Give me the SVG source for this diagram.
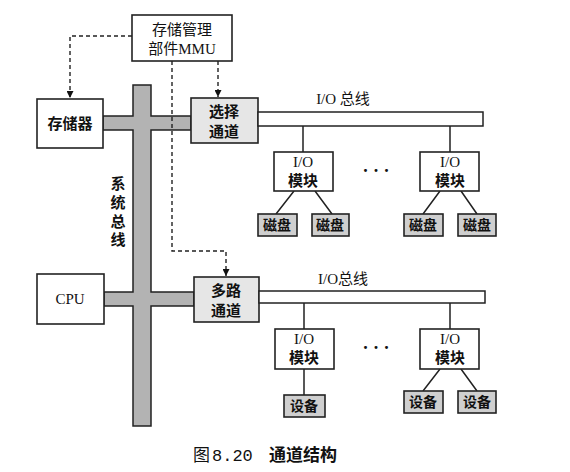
<svg xmlns="http://www.w3.org/2000/svg" width="570" height="472" viewBox="0 0 570 472">
<defs>
<marker id="arr" viewBox="0 0 10 10" refX="10" refY="5" markerWidth="7" markerHeight="7" orient="auto" markerUnits="userSpaceOnUse">
<path d="M0,0 L10,5 L0,10 z" fill="#111"/>
</marker>
</defs>
<style>
.box{fill:#fff;stroke:#222;stroke-width:1.6}
.gbox{fill:#e6e6e6;stroke:#222;stroke-width:1.6}
.dbox{fill:#cfcfcf;stroke:#222;stroke-width:1.6}
.bus{fill:#b3b3b3;stroke:#222;stroke-width:1.5}
.iobus{fill:#fff;stroke:#222;stroke-width:1.5}
.ln{stroke:#222;stroke-width:1.5;fill:none}
.dash{stroke:#222;stroke-width:1.4;fill:none;stroke-dasharray:4,3}
text{font-family:"Liberation Serif","Noto Sans CJK SC",serif;fill:#111;text-anchor:middle}
.t{font-size:15px}
.b{font-size:15px;font-weight:bold}
.s{font-size:14px;font-weight:bold}
.dots{font-size:18px;font-weight:bold}
</style>

<g id="system-bus">
<path class="bus" d="M133,85 H151 V116 H191 V130 H151 V292 H194 V306 H151 V426 H133 V306 H104 V292 H133 V130 H103 V116 H133 Z"/>
<text class="b" x="118" y="189">系</text>
<text class="b" x="118" y="208">统</text>
<text class="b" x="118" y="227">总</text>
<text class="b" x="118" y="245">线</text>
</g>

<g id="connectors">
<path class="dash" d="M132,36 H70 V98" marker-end="url(#arr)"/>
<path class="dash" d="M218,61 V97" marker-end="url(#arr)"/>
<path class="dash" d="M172,61 V251 H226 V276" marker-end="url(#arr)"/>
<path class="ln" d="M303,126 V152 M450,126 V152"/>
<path class="ln" d="M294,191 L276,214 M315,191 L332,214 M440,191 L423,214 M461,191 L477,214"/>
<path class="ln" d="M304,303 V329 M450,303 V329"/>
<path class="ln" d="M304,369 V395 M440,369 L423,391 M461,369 L477,391"/>
</g>

<g id="mmu">
<rect class="box" x="132" y="15" width="100" height="46"/>
<text class="t" x="182" y="35">存储管理</text>
<text class="t" x="182" y="54">部件MMU</text>
</g>

<g id="memory">
<rect class="box" x="37" y="99" width="66" height="49"/>
<text class="b" x="70" y="129">存储器</text>
</g>

<g id="cpu">
<rect class="box" x="37" y="274" width="67" height="50"/>
<text class="t" x="70" y="304">CPU</text>
</g>

<g id="selector-channel">
<rect class="gbox" x="191" y="98" width="67" height="45"/>
<text class="b" x="224" y="117">选择</text>
<text class="b" x="224" y="137">通道</text>
</g>

<g id="multiplexer-channel">
<rect class="gbox" x="194" y="277" width="65" height="45"/>
<text class="b" x="226" y="296">多路</text>
<text class="b" x="226" y="316">通道</text>
</g>

<g id="io-bus-1">
<rect class="iobus" x="258" y="112" width="225" height="14"/>
<text class="t" x="343" y="104">I/O 总线</text>
</g>

<g id="io-bus-2">
<rect class="iobus" x="259" y="291" width="226" height="12"/>
<text class="t" x="343" y="284">I/O总线</text>
</g>

<g id="io-module-1">
<rect class="box" x="274" y="152" width="59" height="39"/>
<text class="t" x="303" y="167">I/O</text>
<text class="b" x="303" y="186">模块</text>
</g>
<g id="io-module-2">
<rect class="box" x="420" y="152" width="59" height="39"/>
<text class="t" x="450" y="167">I/O</text>
<text class="b" x="450" y="186">模块</text>
</g>
<g id="io-module-3">
<rect class="box" x="275" y="329" width="59" height="40"/>
<text class="t" x="304" y="344">I/O</text>
<text class="b" x="304" y="363">模块</text>
</g>
<g id="io-module-4">
<rect class="box" x="420" y="329" width="59" height="40"/>
<text class="t" x="450" y="344">I/O</text>
<text class="b" x="450" y="363">模块</text>
</g>

<g id="dots">
<text class="dots" x="376" y="177">· · ·</text>
<text class="dots" x="376" y="354">· · ·</text>
</g>

<g id="disk-1"><rect class="dbox" x="258" y="214" width="39" height="22"/><text class="s" x="277" y="230">磁盘</text></g>
<g id="disk-2"><rect class="dbox" x="312" y="214" width="37" height="22"/><text class="s" x="330" y="230">磁盘</text></g>
<g id="disk-3"><rect class="dbox" x="404" y="214" width="39" height="22"/><text class="s" x="423" y="230">磁盘</text></g>
<g id="disk-4"><rect class="dbox" x="458" y="214" width="38" height="22"/><text class="s" x="477" y="230">磁盘</text></g>

<g id="device-1"><rect class="dbox" x="284" y="395" width="41" height="22"/><text class="s" x="304" y="411">设备</text></g>
<g id="device-2"><rect class="dbox" x="404" y="391" width="39" height="22"/><text class="s" x="423" y="407">设备</text></g>
<g id="device-3"><rect class="dbox" x="458" y="391" width="38" height="22"/><text class="s" x="477" y="407">设备</text></g>

<g id="caption">
<text x="193" y="461" style="font-size:17px;text-anchor:start;font-family:'Noto Sans CJK SC',sans-serif">图</text>
<text x="212" y="461" style="font-size:17px;text-anchor:start;font-family:'Liberation Mono',monospace">8.20</text>
<text x="269" y="461" style="font-size:17px;font-weight:bold;text-anchor:start;font-family:'Noto Sans CJK SC',sans-serif">通道结构</text>
</g>
</svg>
